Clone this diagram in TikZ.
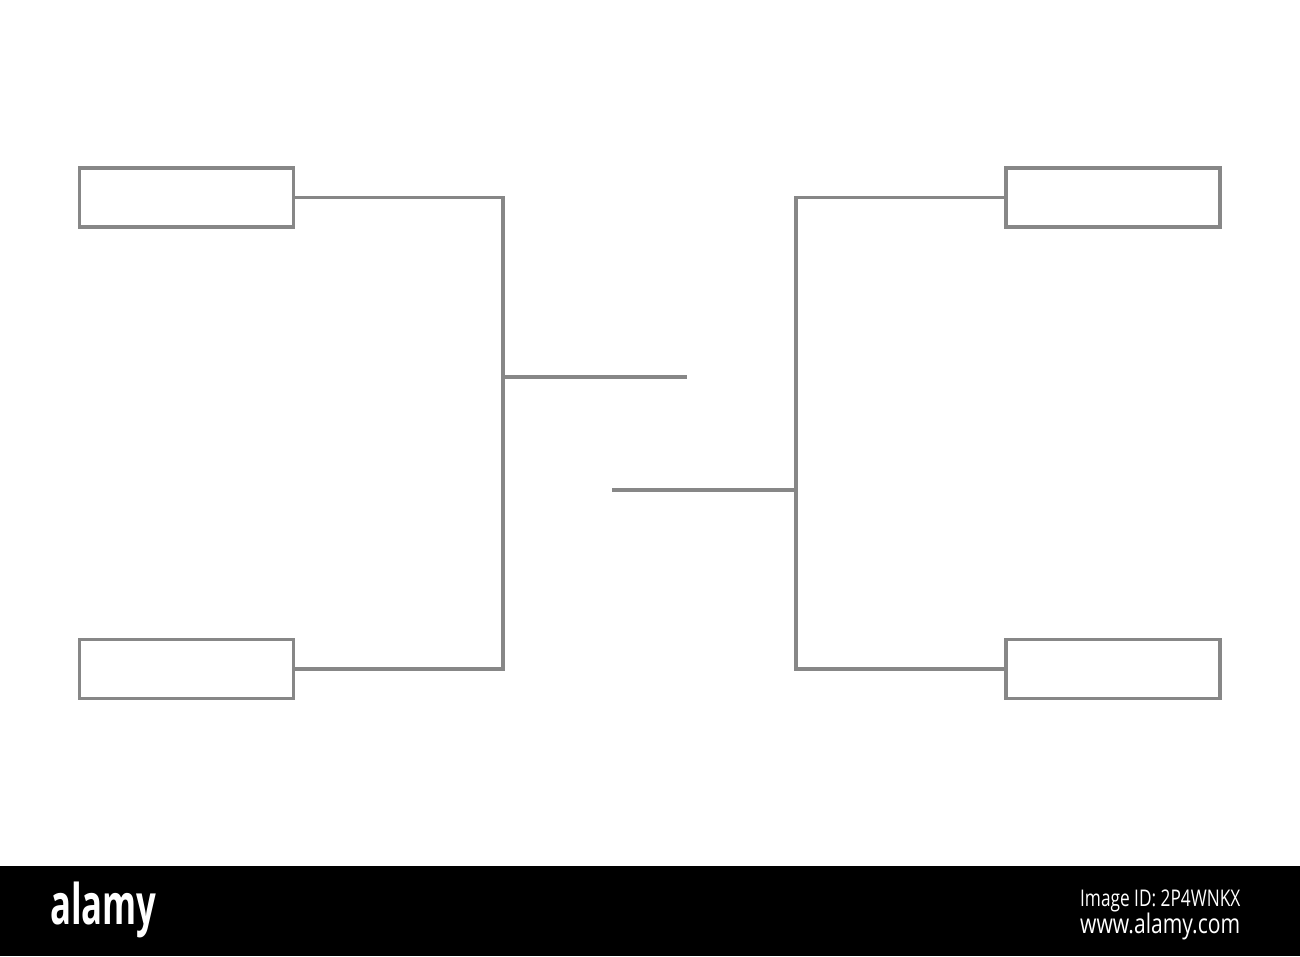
\documentclass[tikz,border=0pt]{standalone}
\usepackage{fontspec}
\setmainfont{Open Sans}
\begin{document}
\begin{tikzpicture}[x=1pt,y=-1pt,
  gline/.style={draw=bracketgray,line width=3.5pt},
  slotbox/.style={draw=bracketgray,line width=3.5pt,fill=white,minimum width=214pt,minimum height=59pt,inner sep=0pt,outer sep=0pt},
  bannertext/.style={text=white,inner sep=0pt,anchor=west}]
\definecolor{bracketgray}{HTML}{878787}
\useasboundingbox (0,0) rectangle (1300,956);
\fill[white] (0,0) rectangle (1300,956);
% boxes
\node[slotbox] (lt) at (186.5,197.5) {};
\node[slotbox] (lb) at (186.5,669) {};
\node[slotbox] (rt) at (1113,197.5) {};
\node[slotbox] (rb) at (1113,669) {};
% junctions
\coordinate (ljt) at (503,197.5);
\coordinate (ljb) at (503,669);
\coordinate (ljm) at (503,377);
\coordinate (lend) at (687,377);
\coordinate (rjt) at (796,197.5);
\coordinate (rjb) at (796,669);
\coordinate (rjm) at (796,490);
\coordinate (rend) at (612,490);
% connectors
\draw[gline] (lt.east) -- (ljt) -- (ljb) -- (lb.east);
\draw[gline] (ljm) -- (lend);
\draw[gline] (rt.west) -- (rjt) -- (rjb) -- (rb.west);
\draw[gline] (rjm) -- (rend);
% banner
\fill[black] (0,866) rectangle (1300,956);
\node[bannertext,font=\bfseries\fontsize{56}{56}\selectfont,xscale=0.62] (logo) at (50,910) {alamy};
\node[bannertext,font=\fontsize{23}{23}\selectfont,xscale=0.75] (imgid) at (1080,901) {Image ID: 2P4WNKX};
\node[bannertext,font=\fontsize{27}{27}\selectfont,xscale=0.78] (url) at (1080,926) {www.alamy.com};
\end{tikzpicture}
\end{document}
